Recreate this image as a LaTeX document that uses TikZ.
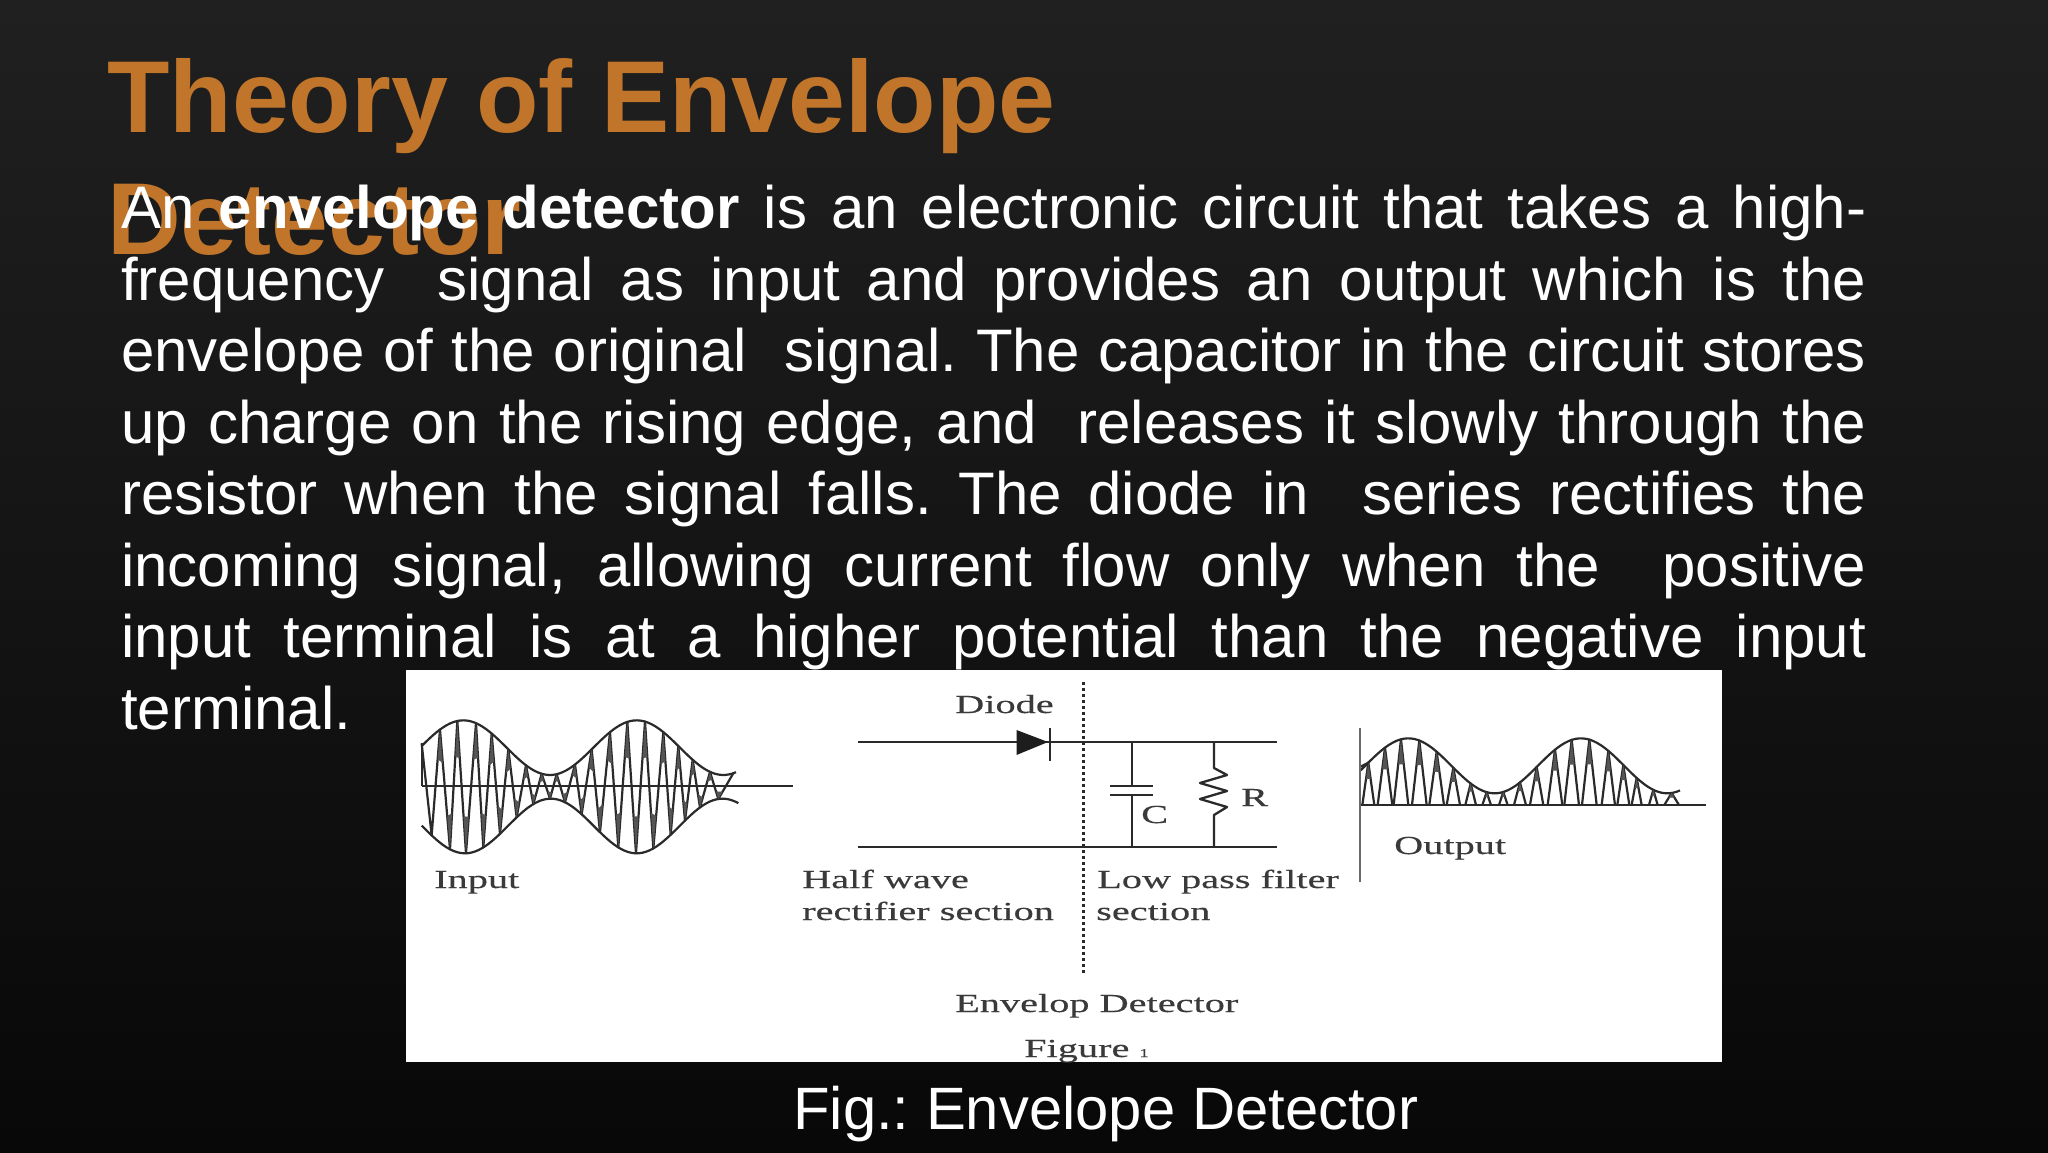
\documentclass[tikz,border=0pt]{standalone}
\usepackage{fontspec}
\setmainfont{Liberation Sans}
\newfontfamily\figfont[FakeStretch=1.55,FakeBold=0.35]{Liberation Serif}
\definecolor{titleor}{RGB}{192,117,42}
\definecolor{figgray}{RGB}{58,58,58}
\definecolor{figline}{RGB}{42,42,42}
\definecolor{bgtop}{RGB}{32,32,32}
\definecolor{bgmid}{RGB}{18,18,18}
\definecolor{bgbot}{RGB}{8,8,8}
\newcommand{\jl}[1]{\makebox[1745pt][s]{\spaceskip=0pt\xspaceskip=0pt\frenchspacing #1}}
\tikzset{
  x=1pt,y=-1pt,
  declare function={
    uin(\t)=263-82*cos(0.6923*(\t-190));
    lin(\t)=498+82*cos(0.699*(\t-195));
    uout(\t)=197.5-82.5*cos(0.695*(\t-205));
  },
  figtext/.style={inner sep=0pt,anchor=base west,text=figgray,font=\figfont\fontsize{26}{28}\selectfont},
  wire/.style={draw=figline,line width=2.3pt},
  wave/.style={draw=figline,line width=2.2pt,line join=round},
  wedge/.style={fill=figline!80},
  zoomscope/.style={x=0.33333pt,y=-0.33333pt,shift={#1}},
}
\begin{document}
\begin{tikzpicture}
\useasboundingbox (0,0) rectangle (2048,1152);
\shade[top color=bgtop,middle color=bgmid,bottom color=bgbot] (0,0) rectangle (2048,1152);
% title
\node[inner sep=0pt,anchor=base west,text=titleor,font=\bfseries\fontsize{102.2}{122}\selectfont] (title1) at (107,132) {Theory of Envelope};
\node[inner sep=0pt,anchor=base west,text=titleor,font=\bfseries\fontsize{102.2}{122}\selectfont] (title2) at (107,254) {Detector};
% body
\node[inner sep=0pt,anchor=north west,text width=1745pt,align=left,text=white,font=\fontsize{60}{71.5}\selectfont] (body) at (121,185.3) {%
\jl{An \textbf{envelope detector} is an electronic circuit that takes a high-}\\
\jl{frequency~ signal as input and provides an output which is the}\\
\jl{envelope of the original~ signal. The capacitor in the circuit stores}\\
\jl{up charge on the rising edge, and~ releases it slowly through the}\\
\jl{resistor when the signal falls. The diode in~ series rectifies the}\\
\jl{incoming signal, allowing current flow only when the~ positive}\\
\jl{input terminal is at a higher potential than the negative input}\\
terminal.};
% figure panel
\fill[white] (406,670) rectangle (1722,1062);
\begin{scope}
\clip (406,670) rectangle (1722,1062);
% input waveform
\begin{scope}[zoomscope={(1200,1980)}]
\draw[wave] plot[domain=65:1008,samples=90,smooth] (\x,{uin(\x)});
\draw[wave] plot[domain=65:1015,samples=90,smooth] (\x,{lin(\x)});
\draw[wave] (65,250) -- (65,378);
\draw[wave] (65,250)
 \foreach \b/\t in {95/120,150/172,198/228,250/275,300/325,350/378,400/425,450/470,495/525,545/575,600/630,655/682,708/735,760/790,812/835,855/878,900/930,955/1000}
 { -- (\b,{lin(\b)}) -- (\t,{uin(\t)}) };
\foreach \a/\t/\c in {95/120/150,150/172/198,198/228/250,250/275/300,300/325/350,350/378/400,400/425/450,450/470/495,495/525/545,545/575/600,600/630/655,655/682/708,708/735/760,760/790/812,812/835/855,855/878/900,900/930/955}
  \fill[wedge] (\t,{uin(\t)}) -- ({\t+.28*(\a-\t)},{uin(\t)+.28*(lin(\a)-uin(\t))}) -- ({\t+.28*(\c-\t)},{uin(\t)+.28*(lin(\c)-uin(\t))}) -- cycle;
\foreach \a/\t/\c in {120/150/172,172/198/228,228/250/275,275/300/325,325/350/378,378/400/425,425/450/470,470/495/525,525/545/575,575/600/630,630/655/682,682/708/735,735/760/790,790/812/835,835/855/878,878/900/930,930/955/1000}
  \fill[wedge] (\t,{lin(\t)}) -- ({\t+.28*(\a-\t)},{lin(\t)+.28*(uin(\a)-lin(\t))}) -- ({\t+.28*(\c-\t)},{lin(\t)+.28*(uin(\c)-lin(\t))}) -- cycle;
\draw[wire] (65,378) -- (1178,378);
\end{scope}
\node[figtext] (input) at (434,888) {Input};
% circuit
\coordinate (wireTL) at (858,742);
\coordinate (wireTR) at (1277,742);
\coordinate (wireBL) at (858,847);
\coordinate (wireBR) at (1277,847);
\draw[wire] (wireTL) -- (wireTR);
\draw[wire] (wireBL) -- (wireBR);
\fill[figline!70!black] (1016.5,730) -- (1048,742) -- (1016.5,755) -- cycle;
\draw[wire] (1050,728) -- (1050,761);
\draw[figline,line width=3pt,dash pattern=on 3pt off 3pt] (1083,682) -- (1083,973);
% capacitor
\draw[wire] (1132,742) -- (1132,786);
\draw[wire] (1110,786) -- (1153,786);
\draw[wire] (1110,795) -- (1153,795);
\draw[wire] (1132,795) -- (1132,847);
% resistor
\draw[wire,line join=round] (1214,742) -- (1214,768) -- (1227,775) -- (1200,783) -- (1227,791) -- (1200,799) -- (1227,807) -- (1214,815) -- (1214,847);
\node[figtext] (diode) at (955,713) {Diode};
\node[figtext] (clabel) at (1141,823) {C};
\node[figtext] (rlabel) at (1241,806) {R};
\node[figtext] (half) at (802,888) {Half wave};
\node[figtext] (rect) at (802,920) {rectifier section};
\node[figtext] (low) at (1097,888) {Low pass filter};
\node[figtext] (sect) at (1096,920) {section};
\node[figtext] (env) at (955,1012) {Envelop Detector};
\node[figtext] (figone) at (1024,1057) {Figure {\fontsize{12}{14}\selectfont 1}};
% output waveform
\begin{scope}[zoomscope={(4020,2100)}]
\draw[wave] plot[domain=62:1020,samples=90,smooth] (\x,{uout(\x)});
\foreach \p/\w in {85/18,135/22,183/22,238/22,290/22,340/20,392/16,440/13,490/13,540/18,590/20,645/22,695/22,748/22,805/20,850/18,890/15,940/13,995/22}{
  \draw[wave] (\p-\w,315) -- (\p,{uout(\p)}) -- (\p+\w,315);
  \fill[wedge] (\p,{uout(\p)}) -- ({\p-.38*\w},{uout(\p)+.38*(315-uout(\p))}) -- ({\p+.38*\w},{uout(\p)+.38*(315-uout(\p))}) -- cycle;
}
\draw[wave] (62,200) -- (85,{uout(85)});
\draw[wire] (60,315) -- (1098,315);
\draw[wire,draw=figline!70,line width=2.6pt] (60,85) -- (60,545);
\end{scope}
\node[figtext] (output) at (1394,854) {Output};
\end{scope}
% caption
\node[inner sep=0pt,anchor=base west,text=white,font=\frenchspacing\fontsize{59.8}{72}\selectfont] (caption) at (793,1129) {Fig.: Envelope Detector};
\end{tikzpicture}
\end{document}
